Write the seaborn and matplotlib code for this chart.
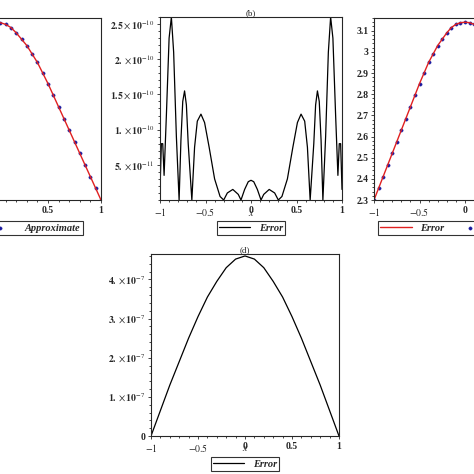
import numpy as np
import pandas as pd
import seaborn as sns
import matplotlib.pyplot as plt
from matplotlib.ticker import FixedLocator, AutoMinorLocator

# panel (a)/(c): exact vs approximate solution
x_sol = [-1.0, -0.95, -0.9, -0.85, -0.8, -0.75, -0.7, -0.65, -0.6, -0.55, -0.5,
         -0.45, -0.4, -0.35, -0.3, -0.25, -0.2, -0.15, -0.1, -0.05, 0.0,
         0.05, 0.1, 0.15, 0.2, 0.25, 0.3, 0.35, 0.4, 0.45, 0.5,
         0.55, 0.6, 0.65, 0.7, 0.75, 0.8, 0.85, 0.9, 0.95, 1.0]
y_sol = [2.30, 2.355, 2.41, 2.465, 2.52, 2.575, 2.63, 2.685, 2.74, 2.795, 2.85,
         2.90, 2.95, 2.99, 3.03, 3.06, 3.09, 3.115, 3.13, 3.138, 3.14,
         3.138, 3.13, 3.115, 3.09, 3.06, 3.03, 2.99, 2.95, 2.90, 2.85,
         2.795, 2.74, 2.685, 2.63, 2.575, 2.52, 2.465, 2.41, 2.355, 2.30]

# panel (b): absolute error (x 1e-10), left half, mirrored
x_err_b = [-1.0, -0.985, -0.97, -0.955, -0.93, -0.9, -0.875, -0.85, -0.82, -0.79,
           -0.77, -0.75, -0.73, -0.71, -0.69, -0.65, -0.62, -0.59, -0.55, -0.51,
           -0.46, -0.4, -0.34, -0.3, -0.26, -0.2, -0.14, -0.11, -0.07, -0.03, 0.0]
y_err_b = [0.15, 0.80, 0.80, 0.35, 1.20, 2.30, 2.60, 2.10, 0.90, 0.0,
           0.85, 1.40, 1.55, 1.35, 0.80, 0.0, 0.75, 1.12, 1.22, 1.10,
           0.75, 0.30, 0.05, 0.0, 0.10, 0.15, 0.08, 0.0, 0.15, 0.26, 0.28]

# panel (d): absolute error (x 1e-7)
x_err_d = [-1.0, -0.9, -0.8, -0.7, -0.6, -0.5, -0.4, -0.3, -0.2, -0.1, 0.0,
           0.1, 0.2, 0.3, 0.4, 0.5, 0.6, 0.7, 0.8, 0.9, 1.0]
y_err_d = [0.0, 0.65, 1.30, 1.90, 2.50, 3.05, 3.55, 3.95, 4.30, 4.52, 4.60,
           4.52, 4.30, 3.95, 3.55, 3.05, 2.50, 1.90, 1.30, 0.65, 0.0]

sns.set_style("ticks")
plt.rcParams['font.family'] = ['Liberation Serif', 'DejaVu Serif']
plt.rcParams['mathtext.fontset'] = 'stix'

W = H = 474.0
fig = plt.figure(figsize=(4.74, 4.74), dpi=100)


def add_ax(x0, y0, x1, y1):
    return fig.add_axes([x0 / W, 1 - y1 / H, (x1 - x0) / W, (y1 - y0) / H])


def style(ax, xt=(-1, -0.5, 0, 0.5, 1)):
    ax.set_xlim(-1, 1)
    ax.xaxis.set_major_locator(FixedLocator(xt))
    ax.set_xticklabels(['$-1$' if v == -1 else ('$-0.5$' if v == -0.5 else
                        ('0' if v == 0 else str(v))) for v in xt])
    ax.xaxis.set_minor_locator(AutoMinorLocator(5))
    ax.yaxis.set_minor_locator(AutoMinorLocator(5))
    ax.tick_params(which='both', direction='out', labelsize=7, width=0.6, pad=1.5)
    ax.tick_params(which='major', length=2.5)
    ax.tick_params(which='minor', length=1.2)
    for lab in ax.get_xticklabels() + ax.get_yticklabels():
        lab.set_fontweight('bold')
    for s in ax.spines.values():
        s.set_visible(True)
        s.set_linewidth(0.8)
    ax.set_xlabel('')
    ax.set_ylabel('')


def sci(mant, exp):
    return [('0' if m == '0' else r'$\mathbf{%s}\times\mathbf{10}^{%d}$' % (m, e))
            for m, e in zip(mant, exp)]


def legend_box(ax, handles, labels):
    leg = ax.legend(handles, labels, loc='upper center', bbox_to_anchor=(0.5, -0.085),
                    ncol=len(labels), frameon=True, fancybox=False,
                    handlelength=3, borderpad=0.25, columnspacing=1.0,
                    prop={'style': 'italic', 'weight': 'bold', 'size': 7.5})
    leg.get_frame().set_edgecolor('black')
    leg.get_frame().set_linewidth(0.8)


sol = pd.DataFrame({'x': x_sol, 'y': y_sol})

# (a) left, mostly cropped
ax_a = add_ax(-111, 18, 101, 200)
sns.lineplot(data=sol, x='x', y='y', ax=ax_a, color='#e02020', lw=1.0, label='Exact')
sns.scatterplot(data=sol, x='x', y='y', ax=ax_a, color='#1a1aa0', s=6, edgecolor=None,
                label='Approximate')
ax_a.set_ylim(2.3, 3.16)
style(ax_a)
h, l = ax_a.get_legend_handles_labels()
legend_box(ax_a, h, l)

# (b) middle
eb = pd.DataFrame({'x': x_err_b + [-v for v in x_err_b[::-1][1:]],
                   'y': [v * 1e-10 for v in y_err_b + y_err_b[::-1][1:]]})
ax_b = add_ax(160, 17, 342, 200)
sns.lineplot(data=eb, x='x', y='y', ax=ax_b, color='black', lw=0.9, label='Error')
ax_b.set_ylim(0, 2.6e-10)
style(ax_b)
ax_b.yaxis.set_major_locator(FixedLocator([5e-11, 1e-10, 1.5e-10, 2e-10, 2.5e-10]))
ax_b.set_yticklabels(sci(['5.', '1.', '1.5', '2.', '2.5'], [-11, -10, -10, -10, -10]))
ax_b.set_title('(b)', fontsize=6.5, pad=1)
ax_b.text(0.5, -0.085, '$x$', transform=ax_b.transAxes, fontsize=7, ha='center')
h, l = ax_b.get_legend_handles_labels()
legend_box(ax_b, h, l)

# (c) right, partly cropped
ax_c = add_ax(374, 18, 556, 200)
sns.lineplot(data=sol, x='x', y='y', ax=ax_c, color='#e02020', lw=1.0, label='Error')
sns.scatterplot(data=sol, x='x', y='y', ax=ax_c, color='#1a1aa0', s=6, edgecolor=None,
                label='Approximate')
ax_c.set_ylim(2.3, 3.16)
style(ax_c)
ax_c.yaxis.set_major_locator(FixedLocator([2.3, 2.4, 2.5, 2.6, 2.7, 2.8, 2.9, 3.0, 3.1]))
ax_c.set_yticklabels(['2.3', '2.4', '2.5', '2.6', '2.7', '2.8', '2.9', '3', '3.1'],
                     fontweight='bold')
h, l = ax_c.get_legend_handles_labels()
legend_box(ax_c, h, l)

# (d) bottom
ed = pd.DataFrame({'x': x_err_d, 'y': [v * 1e-7 for v in y_err_d]})
ax_d = add_ax(151, 254, 339, 436)
sns.lineplot(data=ed, x='x', y='y', ax=ax_d, color='black', lw=0.9, label='Error')
ax_d.set_ylim(0, 4.65e-7)
style(ax_d)
ax_d.yaxis.set_major_locator(FixedLocator([0, 1e-7, 2e-7, 3e-7, 4e-7]))
ax_d.set_yticklabels(sci(['0', '1.', '2.', '3.', '4.'], [0, -7, -7, -7, -7]),
                     fontweight='bold')
ax_d.set_title('(d)', fontsize=6.5, pad=1)
ax_d.text(0.5, -0.085, '$x$', transform=ax_d.transAxes, fontsize=7, ha='center')
h, l = ax_d.get_legend_handles_labels()
legend_box(ax_d, h, l)

fig.savefig('out.png', dpi=100, facecolor='white')
